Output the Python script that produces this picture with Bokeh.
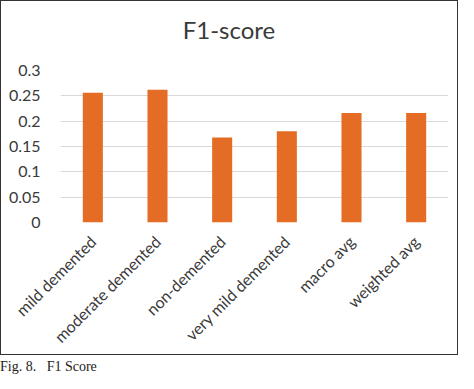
import math
from bokeh.plotting import figure
from bokeh.models import Range1d, Div, FactorRange
from bokeh.layouts import column
from bokeh.embed import file_html
from bokeh.resources import INLINE

categories = ["mild demented", "moderate demented", "non-demented",
              "very mild demented", "macro avg", "weighted avg"]
f1_scores = [0.256, 0.262, 0.168, 0.180, 0.216, 0.216]
y_ticks = [0, 0.05, 0.1, 0.15, 0.2, 0.25, 0.3]
y_tick_labels = ["0", "0.05", "0.1", "0.15", "0.2", "0.25", "0.3"]
title_text = "F1-score"
caption_text = "Fig. 8.&nbsp;&nbsp;&nbsp;F1 Score"

FONT = "Lato"
TEXT = "#3a3a3a"
BORDER = "1.5px solid #333333"

title_div = Div(text=title_text, width=458, height=58, margin=0,
                styles={"font-family": FONT, "font-size": "24px", "color": TEXT,
                        "text-align": "center", "line-height": "58px",
                        "box-sizing": "border-box", "border-top": BORDER,
                        "border-left": BORDER, "border-right": BORDER,
                        "background": "white"})

p = figure(x_range=FactorRange(*categories), y_range=Range1d(0, 0.3),
           width=458, height=297, output_backend="svg", toolbar_location=None,
           min_border_left=59, min_border_right=11, min_border_top=12,
           min_border_bottom=132, margin=0)
p.styles = {"box-sizing": "border-box", "border-bottom": BORDER,
            "border-left": BORDER, "border-right": BORDER}

p.vbar(x=categories, top=f1_scores, width=0.31, color="#E46C24", line_color=None)

p.outline_line_color = None
p.xgrid.grid_line_color = None
p.ygrid.grid_line_color = "#d9d9d9"
p.ygrid.grid_line_width = 1.2

p.yaxis.ticker = y_ticks
p.yaxis.major_label_overrides = {t: l for t, l in zip(y_ticks, y_tick_labels)}
p.yaxis.axis_line_color = None
p.yaxis.major_tick_line_color = None
p.yaxis.minor_tick_line_color = None
p.yaxis.major_label_standoff = 14
p.yaxis.major_label_text_font = FONT
p.yaxis.major_label_text_font_size = "16px"
p.yaxis.major_label_text_color = TEXT

p.xaxis.axis_line_color = None
p.xaxis.major_tick_line_color = None
p.xaxis.major_label_orientation = math.pi / 4
p.xaxis.major_label_standoff = 10
p.xaxis.major_label_text_font = FONT
p.xaxis.major_label_text_font_size = "16px"
p.xaxis.major_label_text_color = TEXT

caption = Div(text=caption_text, width=458, height=16, margin=(2, 0, 0, 0),
              styles={"font-family": "Liberation Serif", "font-size": "14px",
                      "color": "#222222"})

layout = column(title_div, p, caption, spacing=0)
open("out.html", "w").write(file_html(layout, INLINE))
